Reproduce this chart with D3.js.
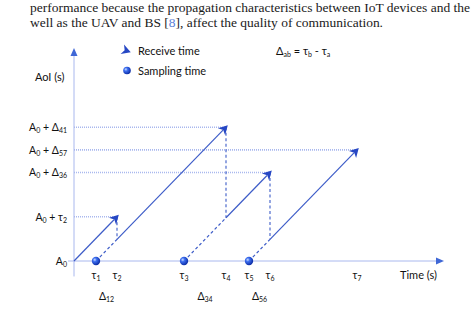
<!DOCTYPE html>
<html><head><meta charset="utf-8">
<script src="https://cdn.jsdelivr.net/npm/d3@7"></script>
<style>
html,body{margin:0;padding:0;background:#fff;}
svg{display:block;}
</style></head>
<body>
<script>
// ---- data ----
const paragraphLines = [
  ["performance because the propagation characteristics between IoT devices and the"],
  ["well as the UAV and BS [", "8", "], affect the quality of communication."]
];
const tauNames = ["1","2","3","4","5","6","7"];
const tauValues = [22, 43, 110, 152, 175, 196, 283];   // time positions
const timeMax = 368;
const aoiMax = 205;
// AoI segments: [sampleTime, dashedUntil, receiveTime]
const sampleStarts = [0, 22, 110, 175];
const dashEnds     = [0, 43, 152, 196];
const receiveTimes = [43, 152, 196, 283];
// y tick labels
const yLabelParts = [
  {base:"A", sub:"0", rest:" + \u0394", sub2:"41"},
  {base:"A", sub:"0", rest:" + \u0394", sub2:"57"},
  {base:"A", sub:"0", rest:" + \u0394", sub2:"36"},
  {base:"A", sub:"0", rest:" + \u03C4", sub2:"2"},
  {base:"A", sub:"0", rest:"", sub2:""}
];
const yLabelValues = [130, 108, 86, 43, 0];
const deltaNames = ["12","34","56"];
const deltaPairs = [[0,1],[2,3],[4,5]];

// ---- chart ----
const W = 474, H = 335;
const svg = d3.select("body").append("svg").attr("width", W).attr("height", H);
const defs = svg.append("defs");
const grad = defs.append("radialGradient").attr("id","ball").attr("cx","35%").attr("cy","35%").attr("r","65%");
grad.append("stop").attr("offset","0%").attr("stop-color","#cfe0ff");
grad.append("stop").attr("offset","35%").attr("stop-color","#3e6ff0");
grad.append("stop").attr("offset","100%").attr("stop-color","#0d2fa8");

const x = d3.scaleLinear().domain([0, timeMax]).range([74, 442]);
const y = d3.scaleLinear().domain([0, aoiMax]).range([261, 50]);

const lineCol = "#3d5cc8", axisCol = "#a9b8ee", markCol = "#2647c4";
const sans = "Lato, 'Open Sans', sans-serif";

// paragraph
const para = svg.append("g").attr("font-family","'Liberation Serif', serif").attr("font-size",13.5).attr("fill","#1a1a1a");
const lens = [440, 353];
const ys = [12, 27];
paragraphLines.forEach((parts, i) => {
  const t = para.append("text").attr("x", 30).attr("y", ys[i])
    .attr("textLength", lens[i]).attr("lengthAdjust","spacingAndGlyphs");
  parts.forEach((p, j) => t.append("tspan").text(p).attr("fill", (i===1 && j===1) ? "#5b7fd6" : "#1a1a1a"));
});

// axes
svg.append("line").attr("x1", x(0)).attr("x2", x(0)).attr("y1", y(-15)).attr("y2", y(aoiMax)+4)
  .attr("stroke", axisCol).attr("stroke-width", 1);
svg.append("path").attr("d", d3.line()([[x(0)-3.5, y(aoiMax)+6],[x(0)+3.5, y(aoiMax)+6],[x(0), y(aoiMax)-2]]) + "Z")
  .attr("fill", "#3f67d6");
svg.append("line").attr("x1", x(-6)).attr("x2", x(timeMax)-4).attr("y1", y(0)).attr("y2", y(0))
  .attr("stroke", axisCol).attr("stroke-width", 1);
svg.append("path").attr("d", d3.line()([[x(timeMax)-6, y(0)-3.5],[x(timeMax)-6, y(0)+3.5],[x(timeMax)+2, y(0)]]) + "Z")
  .attr("fill", "#3f67d6");

// horizontal dotted guides
receiveTimes.forEach((r, i) => {
  const lvl = r - sampleStarts[i];
  svg.append("line").attr("x1", x(0)).attr("x2", x(r)).attr("y1", y(lvl)).attr("y2", y(lvl))
    .attr("stroke", axisCol).attr("stroke-width", 1.6).attr("stroke-dasharray","1,1");
});

// vertical dashed drops
receiveTimes.forEach((r, i) => {
  if (i === receiveTimes.length - 1) return;
  const top = r - sampleStarts[i];
  const bot = r - sampleStarts[i+1];
  svg.append("line").attr("x1", x(r)).attr("x2", x(r)).attr("y1", y(top)).attr("y2", y(bot))
    .attr("stroke", lineCol).attr("stroke-width", 1.1).attr("stroke-dasharray","3,2.5");
});

// AoI lines
sampleStarts.forEach((s, i) => {
  const d = dashEnds[i], r = receiveTimes[i];
  if (d > s) {
    svg.append("line").attr("x1", x(s)).attr("y1", y(0)).attr("x2", x(d)).attr("y2", y(d - s))
      .attr("stroke", lineCol).attr("stroke-width", 1.2).attr("stroke-dasharray","3,2.5");
  }
  svg.append("line").attr("x1", x(d)).attr("y1", y(d - s)).attr("x2", x(r)-3).attr("y2", y(r - s)+3)
    .attr("stroke", lineCol).attr("stroke-width", 1.2);
});

// receive markers (arrowheads)
function arrowHead(g, cx, cy, ang) {
  g.append("path").attr("d","M4,0 L-5,-5 L-2.5,0 L-5,5 Z")
    .attr("transform", `translate(${cx},${cy}) rotate(${ang})`)
    .attr("fill", markCol);
}
receiveTimes.forEach((r, i) => {
  const px = x(r), py = y(r - sampleStarts[i]);
  const ang = Math.atan2(y(1) - y(0), x(1) - x(0)) * 180 / Math.PI;
  arrowHead(svg, px - 1, py + 1, ang);
});

// sampling balls
sampleStarts.slice(1).forEach(s => {
  svg.append("circle").attr("cx", x(s)).attr("cy", y(0)).attr("r", 4.2).attr("fill","url(#ball)");
});

// legend
arrowHead(svg, 127, 51, 20);
svg.append("circle").attr("cx", 127).attr("cy", 70.5).attr("r", 3.8).attr("fill","url(#ball)");
const lg = svg.append("g").attr("font-family", sans).attr("font-size", 11).attr("fill","#111");
lg.append("text").attr("x", 138).attr("y", 55).text("Receive time");
lg.append("text").attr("x", 138).attr("y", 74.5).text("Sampling time");

// formula
const f = svg.append("text").attr("x", 276).attr("y", 55).attr("font-family", sans).attr("font-size", 11).attr("fill","#111");
f.append("tspan").text("\u0394");
f.append("tspan").text("ab").attr("font-size", 7).attr("dy", 2);
f.append("tspan").text(" = \u03C4").attr("dy", -2);
f.append("tspan").text("b").attr("font-size", 7).attr("dy", 2);
f.append("tspan").text(" - \u03C4").attr("dy", -2);
f.append("tspan").text("a").attr("font-size", 7).attr("dy", 2);

// AoI (s) label
svg.append("text").attr("x", 35).attr("y", 81).attr("font-family", sans).attr("font-size", 11).attr("fill","#111").text("AoI (s)");

// y labels
yLabelValues.forEach((v, i) => {
  const p = yLabelParts[i];
  const t = svg.append("text").attr("x", 67).attr("y", y(v) + 4).attr("text-anchor","end")
    .attr("font-family", sans).attr("font-size", 10.5).attr("fill","#111");
  t.append("tspan").text(p.base);
  t.append("tspan").text(p.sub).attr("font-size", 7).attr("dy", 2);
  if (p.rest) {
    t.append("tspan").text(p.rest).attr("dy", -2);
    t.append("tspan").text(p.sub2).attr("font-size", 7).attr("dy", 2);
  }
});

// x tick labels
tauValues.forEach((v, i) => {
  const t = svg.append("text").attr("x", x(v)).attr("y", 279).attr("text-anchor","middle")
    .attr("font-family", sans).attr("font-size", 10.5).attr("fill","#111");
  t.append("tspan").text("\u03C4");
  t.append("tspan").text(tauNames[i]).attr("font-size", 7).attr("dy", 2);
});
svg.append("text").attr("x", 400).attr("y", 279).attr("font-family", sans).attr("font-size", 11).attr("fill","#111").text("Time (s)");

// delta labels
deltaPairs.forEach((pr, i) => {
  const mid = (tauValues[pr[0]] + tauValues[pr[1]]) / 2;
  const t = svg.append("text").attr("x", x(mid)).attr("y", 300).attr("text-anchor","middle")
    .attr("font-family", sans).attr("font-size", 10.5).attr("fill","#111");
  t.append("tspan").text("\u0394");
  t.append("tspan").text(deltaNames[i]).attr("font-size", 7).attr("dy", 2);
});
</script>
</body></html>
